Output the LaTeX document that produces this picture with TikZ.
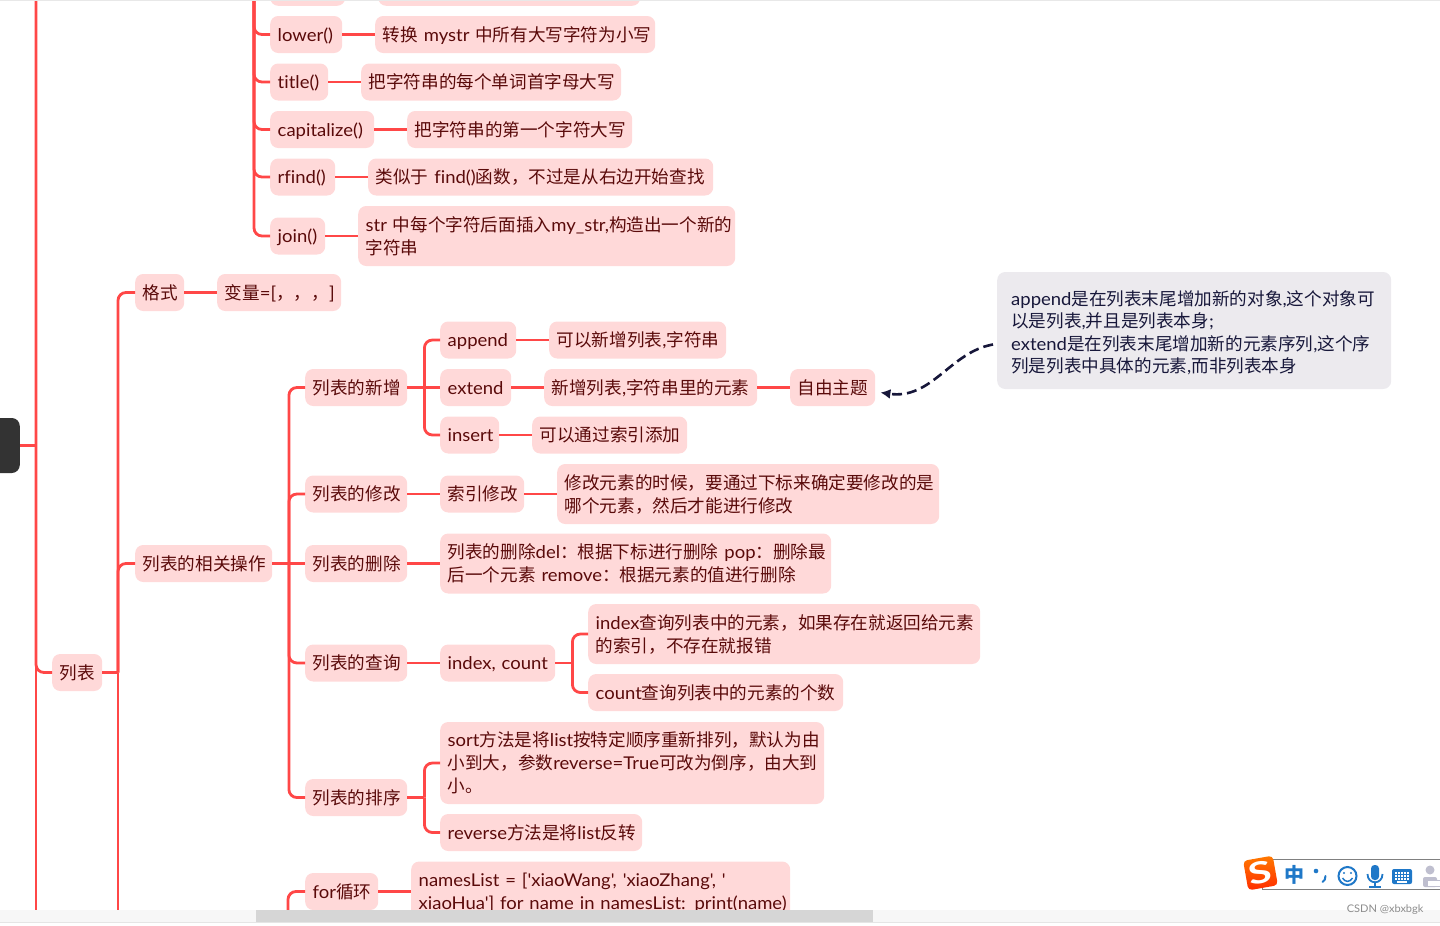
\documentclass[tikz,border=0pt]{standalone}
\usepackage{fontspec}
\setmainfont{Lato}[Ligatures={TeXOff,CommonOff}, FakeStretch=1.05]
\newfontfamily\cjk{Noto Sans CJK SC}
\newcommand{\zh}[1]{{\cjk #1}}
\newcommand{\boxstrut}{\rule[-4.9pt]{0pt}{23pt}}
\usepackage{tikz}
\usetikzlibrary{arrows.meta, positioning, calc}

\definecolor{boxpink}{HTML}{FFD9D9}
\definecolor{linkred}{HTML}{FF4747}
\definecolor{textred}{HTML}{5A0A0A}
\definecolor{notegray}{HTML}{ECEAEE}
\definecolor{notenavy}{HTML}{17173A}
\definecolor{imeblue}{HTML}{1F78C8}

\tikzset{
  topic/.style={fill=boxpink, rounded corners=8pt, text=textred, anchor=west, align=left,
                inner xsep=7.5pt, inner ysep=0pt, minimum height=37pt,
                font=\fontsize{17.6}{23}\selectfont,
                execute at begin node=\boxstrut, execute at end node=\boxstrut},
  wide/.style={text width=#1pt-15pt},
  link/.style={draw=linkred, line width=2.8pt, rounded corners=8pt},
  notebox/.style={fill=notegray, rounded corners=8pt, text=notenavy, anchor=west, align=left,
                inner xsep=14pt, inner ysep=0pt, minimum height=117pt, text width=366pt,
                font=\fontsize{17.6}{22.5}\selectfont,
                execute at begin node=\rule[-3pt]{0pt}{23pt}, execute at end node=\rule[-3pt]{0pt}{3pt}},
}

\begin{document}
\begin{tikzpicture}[x=1pt, y=-1pt]
  \useasboundingbox (0,0) rectangle (1440,926);

  % string methods, cut off by the window at the top
  \node[topic, wide=75, anchor=south west] (cuta) at (270,6) {};
  \node[topic, wide=262, anchor=south west] (cutb) at (378,6) {};
  \node[topic, wide=72] (lower) at (270,34.5) {lower()};
  \node[topic, wide=280] (lowerd) at (375,34.5) {\mbox{\zh{转换} mystr \zh{中所有大写字符为小写}}};
  \node[topic, wide=58] (title) at (270,82) {title()};
  \node[topic, wide=260] (titled) at (361,82) {\zh{把字符串的每个单词首字母大写}};
  \node[topic, wide=104] (capi) at (270,129.5) {capitalize()};
  \node[topic, wide=225] (capid) at (407,129.5) {\zh{把字符串的第一个字符大写}};
  \node[topic, wide=65] (rfind) at (270,177) {rfind()};
  \node[topic, wide=345] (rfindd) at (368,177) {\mbox{\zh{类似于} find()\zh{函数，不过是从右边开始查找}}};
  \node[topic, wide=55] (join) at (270,236) {join()};
  \node[topic, wide=377, minimum height=60pt] (joind) at (358,236) {\mbox{str \zh{中每个字符后面插入}my\_str,\zh{构造出一个新的}}\\\zh{字符串}};

  % list branch
  \node[fill=black!80, rounded corners=8pt, minimum width=40pt, minimum height=55pt, anchor=east] (root) at (20,445.5) {};
  \node[topic, wide=50] (liebiao) at (52,672.5) {\zh{列表}};
  \node[topic, wide=49] (geshi) at (135,292.5) {\zh{格式}};
  \node[topic, wide=124] (geshid) at (217,292.5) {\zh{变量}=[\zh{，，，}]};
  \node[topic, wide=137] (caozuo) at (135,563.5) {\zh{列表的相关操作}};

  \node[topic, wide=102] (xinzeng) at (305,387.5) {\zh{列表的新增}};
  \node[topic, wide=76] (append) at (440,340) {append};
  \node[topic, wide=177] (appendd) at (549,340) {\zh{可以新增列表},\zh{字符串}};
  \node[topic, wide=71] (extend) at (440,387.5) {extend};
  \node[topic, wide=213] (extendd) at (544,387.5) {\zh{新增列表},\zh{字符串里的元素}};
  \node[topic, wide=85] (ziyou) at (790,387.5) {\zh{自由主题}};
  \node[topic, wide=59] (insert) at (440,435) {insert};
  \node[topic, wide=155] (insertd) at (532,435) {\zh{可以通过索引添加}};

  \node[topic, wide=102] (xiugai) at (305,494) {\zh{列表的修改}};
  \node[topic, wide=84] (suoyin) at (440,494) {\zh{索引修改}};
  \node[topic, wide=382, minimum height=60pt] (suoyind) at (557,494) {\zh{修改元素的时候，要通过下标来确定要修改的是}\\\zh{哪个元素，然后才能进行修改}};

  \node[topic, wide=102] (shanchu) at (305,563.5) {\zh{列表的删除}};
  \node[topic, wide=391, minimum height=60pt] (shanchud) at (440,563.5) {\mbox{\zh{列表的删除}del\zh{：根据下标进行删除} pop\zh{：删除最}}\\\mbox{\zh{后一个元素} remove\zh{：根据元素的值进行删除}}};

  \node[topic, wide=102] (chaxun) at (305,663) {\zh{列表的查询}};
  \node[topic, wide=115] (indexc) at (440,663) {\mbox{index, count}};
  \node[topic, wide=392, minimum height=60pt] (indexd) at (588,634) {index\zh{查询列表中的元素，如果存在就返回给元素}\\\zh{的索引，不存在就报错}};
  \node[topic, wide=255] (countd) at (588,692.5) {count\zh{查询列表中的元素的个数}};

  \node[topic, wide=102] (paixu) at (305,797.5) {\zh{列表的排序}};
  \node[topic, wide=384, minimum height=82pt] (sortd) at (440,763) {sort\zh{方法是将}list\zh{按特定顺序重新排列，默认为由}\\\zh{小到大，参数}reverse=True\zh{可改为倒序，由大到}\\\zh{小。}};
  \node[topic, wide=202] (reversed) at (440,832.5) {reverse\zh{方法是将}list\zh{反转}};

  \node[topic, wide=73] (forloop) at (305,891.5) {for\zh{循环}};
  \node[topic, wide=379, minimum height=60pt] (ford) at (411,891.5) {\mbox{namesList = ['xiaoWang', 'xiaoZhang', '}\\\mbox{xiaoHua'] for name in namesList: print(name)}};

  \node[notebox] (note) at (997,330.5) {append\zh{是在列表末尾增加新的对象},\zh{这个对象可}\\\zh{以是列表},\zh{并且是列表本身};\\extend\zh{是在列表末尾增加新的元素序列},\zh{这个序}\\\zh{列是列表中具体的元素},\zh{而非列表本身}};

  \coordinate (maintop) at (36,0);
  \coordinate (mainbot) at (36,910);
  \coordinate (strtop) at (254,0);
  \coordinate (listbot) at (118,910);
  \coordinate (forbot) at (288,910);

  \draw[link] (maintop) -- (mainbot);
  \draw[link] (root.east) -- (maintop |- root.east);
  \draw[link] (maintop) |- (liebiao.west);

  \foreach \n in {lower, title, capi, rfind, join}
    \draw[link] (strtop) |- (\n.west);
  \draw[link] (lower) -- (lowerd);
  \draw[link] (title) -- (titled);
  \draw[link] (capi) -- (capid);
  \draw[link] (rfind) -- (rfindd);
  \draw[link] (join) -- (joind);

  \draw[link] (liebiao.east) -- (listbot |- liebiao.east) coordinate (ls);
  \draw[link] (ls) -- (listbot);
  \draw[link] (ls) |- (geshi.west);
  \draw[link] (ls) |- (caozuo.west);
  \draw[link] (geshi) -- (geshid);

  \draw[link] (caozuo.east) -- ++(16.5,0) coordinate (cs);
  \draw[link] (cs) -- (shanchu.west);
  \foreach \n in {xinzeng, xiugai, chaxun, paixu}
    \draw[link] (cs) |- (\n.west);
  \draw[link] (forbot) |- (forloop.west);
  \draw[link] (forloop) -- (ford);

  \draw[link] (xinzeng) -- (extend);
  \draw[link] (xinzeng.east) -- ++(17,0) coordinate (xs);
  \draw[link] (xs) |- (append.west);
  \draw[link] (xs) |- (insert.west);
  \draw[link] (append) -- (appendd);
  \draw[link] (extend) -- (extendd);
  \draw[link] (extendd) -- (ziyou);
  \draw[link] (insert) -- (insertd);

  \draw[link] (xiugai) -- (suoyin);
  \draw[link] (suoyin) -- (suoyind);
  \draw[link] (shanchu) -- (shanchud);
  \draw[link] (chaxun) -- (indexc);

  \draw[link] (indexc.east) -- ++(17,0) coordinate (is);
  \draw[link] (is) |- (indexd.west);
  \draw[link] (is) |- (countd.west);

  \draw[link] (paixu.east) -- ++(17,0) coordinate (ps);
  \draw[link] (ps) |- (sortd.west);
  \draw[link] (ps) |- (reversed.west);

  \draw[notenavy, line width=2.6pt, dash pattern=on 10pt off 5pt, -{Latex[length=10pt, width=10pt]}]
    ([shift={(-4,14)}]note.west) .. controls (950,352) and (932,400) .. ([shift={(5,5)}]ziyou.east);

  % window edges
  \fill[black!9] (0,0) rectangle (1440,1);
  \fill[white] (0,910) rectangle (1440,926);
  \fill[black!3] (0,910) rectangle (1440,922);
  \fill[black!10] (0,922) rectangle (1440,923);
  \fill[black!16] (256,910) rectangle (873,922);
  \node[text=black!45, font=\fontsize{10.5}{12}\selectfont, anchor=east] (mark) at (1427,910) {CSDN @xbxbgk};

  % input method bar
  \draw[black!50, fill=white, line width=1pt] (1440,859) -- (1262,859) -- (1262,889) -- (1440,889);
  \node[rotate=10, top color=orange!95!red, bottom color=red!65!orange, rounded corners=4pt, minimum size=30pt, inner sep=0pt, text=white,
        font=\fontsize{30}{30}\selectfont\bfseries] (logo) at (1260.5,873) {\scalebox{1.35}[1]{S}};
  \node[text=imeblue, font=\fontsize{20}{20}\selectfont\cjk\bfseries] (zhong) at (1294,875) {中};
  \fill[imeblue] (1316,871) circle (2.3pt);
  \draw[imeblue, line width=2pt, line cap=round] (1325.5,876) .. controls (1325.5,879) and (1324.5,881) .. (1322.5,882);
  \draw[imeblue, line width=2pt] (1347.5,876) circle (9pt);
  \fill[imeblue] (1344,873) circle (1.2pt) (1351,873) circle (1.2pt);
  \draw[imeblue, line width=1.5pt] (1342.5,878) .. controls (1345,882.5) and (1350,882.5) .. (1352.5,878);
  \fill[imeblue, rounded corners=3.5pt] (1371,865) rectangle (1379,880);
  \draw[imeblue, line width=1.8pt] (1367.5,874) .. controls (1367.5,885) and (1382.5,885) .. (1382.5,874);
  \draw[imeblue, line width=2pt] (1375,882) -- (1375,886) (1369,886.5) -- (1381,886.5);
  \fill[imeblue, rounded corners=2pt] (1392,869) rectangle (1412,884);
  \foreach \y in {872,875,878}
    \foreach \x in {1395,1398,1401,1404,1407}
      \fill[white] (\x,\y) rectangle ++(2,2);
  \fill[white] (1397,881) rectangle (1407,882.5);
  \fill[blue!25!black!25] (1430,870) circle (4.5pt);
  \fill[blue!25!black!25, rounded corners=2pt] (1423,877) rectangle (1437,887);
  \draw[blue!25!black!25, fill=white, line width=1pt] (1427,880) rectangle (1440,886);
\end{tikzpicture}
\end{document}
